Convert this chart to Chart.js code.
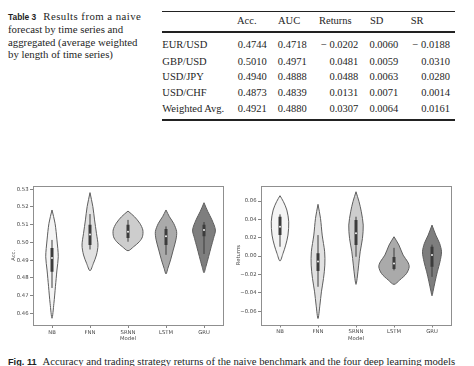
<!DOCTYPE html>
<html>
<head>
<meta charset="utf-8">
<script src="https://cdn.jsdelivr.net/npm/chart.js@4/dist/chart.umd.min.js"></script>
<style>
  body { margin: 0; background: #fff; }
  #page { position: relative; width: 474px; height: 366px; overflow: hidden; font-family: 'Liberation Serif', serif; color: #1e1e1e; }
  .abs { position: absolute; white-space: nowrap; }
  .bold { font-family: 'Liberation Sans', sans-serif; font-weight: bold; }
  .rule { position: absolute; left: 162px; width: 293px; background: #222; }
  .cell { position: absolute; font-size: 10.5px; line-height: 12px; white-space: nowrap; }
  canvas { position: absolute; }
</style>
</head>
<body>
<div id="page">
  <div class="abs" style="left:8px;top:9.8px;font-size:10.8px;line-height:12.45px;">
    <span class="bold" style="font-size:8.4px;">Table 3</span><span style="margin-left:7px;letter-spacing:0.45px;">Results from a naive</span><br>forecast by time series and<br>aggregated (average weighted<br>by length of time series)
  </div>
  <div class="rule" style="top:11.2px;height:1px;"></div>
  <div class="rule" style="top:31.4px;height:1.8px;"></div>
  <div class="rule" style="top:119.4px;height:1.3px;"></div>
  <div id="table"></div>

  <canvas id="accChart" width="235" height="170" style="left:0;top:178px;"></canvas>
  <canvas id="retChart" width="240" height="170" style="left:234px;top:178px;"></canvas>

  <div class="abs" style="left:8px;top:354.5px;font-size:10.7px;line-height:12px;">
    <span class="bold" style="font-size:9.2px;">Fig. 11</span><span style="margin-left:6px;">Accuracy and trading strategy returns of the naive benchmark and the four deep learning models</span>
  </div>
</div>
<script>
// ---- table 3 ----
const rowNames = ['EUR/USD', 'GBP/USD', 'USD/JPY', 'USD/CHF', 'Weighted Avg.'];
const colNames = ['Acc.', 'AUC', 'Returns', 'SD', 'SR'];
const tabAcc = ['0.4744', '0.5010', '0.4940', '0.4873', '0.4921'];
const tabAuc = ['0.4718', '0.4971', '0.4888', '0.4839', '0.4880'];
const tabRet = ['\u2212 0.0202', '0.0481', '0.0488', '0.0131', '0.0307'];
const tabSd = ['0.0060', '0.0059', '0.0063', '0.0071', '0.0064'];
const tabSr = ['\u2212 0.0188', '0.0310', '0.0280', '0.0014', '0.0161'];

// ---- figure 11 ----
const models = ['NB', 'FNN', 'SRNN', 'LSTM', 'GRU'];
const accTicks = [0.46, 0.47, 0.48, 0.49, 0.50, 0.51, 0.52, 0.53];
const retTicks = [-0.06, -0.04, -0.02, 0.00, 0.02, 0.04, 0.06];

// violin outlines: [value, half width in category units], top to bottom
const accNB = [[0.5183, 0], [0.5108, 0.08], [0.5014, 0.13], [0.4919, 0.165], [0.4844, 0.13], [0.4750, 0.09], [0.4656, 0.05], [0.4572, 0]];
const accFNN = [[0.5281, 0], [0.5202, 0.075], [0.5127, 0.12], [0.5051, 0.17], [0.4985, 0.21], [0.4929, 0.17], [0.4882, 0.09], [0.4840, 0]];
const accSRNN = [[0.5177, 0], [0.5145, 0.17], [0.5108, 0.31], [0.5070, 0.39], [0.5032, 0.38], [0.5004, 0.30], [0.4976, 0.15], [0.4953, 0]];
const accLSTM = [[0.5183, 0], [0.5145, 0.09], [0.5108, 0.20], [0.5061, 0.28], [0.5014, 0.26], [0.4957, 0.19], [0.4901, 0.12], [0.4854, 0.05], [0.4822, 0]];
const accGRU = [[0.5224, 0], [0.5174, 0.10], [0.5127, 0.21], [0.5070, 0.30], [0.5023, 0.25], [0.4976, 0.19], [0.4919, 0.12], [0.4863, 0.05], [0.4829, 0]];

const accWhiskHi = [0.5014, 0.5160, 0.5127, 0.5090, 0.5115];
const accQ3 = [0.4968, 0.5100, 0.5100, 0.5075, 0.5100];
const accMedian = [0.4912, 0.5045, 0.5060, 0.5035, 0.5070];
const accQ1 = [0.4835, 0.4985, 0.5025, 0.4985, 0.5035];
const accWhiskLo = [0.4743, 0.4960, 0.5004, 0.4930, 0.4935];

const retNB = [[0.0658, 0], [0.0593, 0.09], [0.0502, 0.18], [0.0374, 0.23], [0.0229, 0.21], [0.0120, 0.15], [0.0030, 0.08], [-0.0054, 0]];
const retFNN = [[0.0564, 0], [0.0411, 0.066], [0.0229, 0.11], [0.0047, 0.175], [-0.0098, 0.18], [-0.0243, 0.145], [-0.0389, 0.09], [-0.0534, 0.05], [-0.0680, 0]];
const retSRNN = [[0.0701, 0], [0.0593, 0.08], [0.0483, 0.14], [0.0338, 0.19], [0.0193, 0.17], [0.0047, 0.11], [-0.0098, 0.07], [-0.0243, 0.03], [-0.0308, 0]];
const retLSTM = [[0.0211, 0], [0.0120, 0.13], [0.0011, 0.24], [-0.0062, 0.36], [-0.0116, 0.40], [-0.0189, 0.33], [-0.0261, 0.15], [-0.0308, 0]];
const retGRU = [[0.0338, 0], [0.0229, 0.10], [0.0139, 0.20], [0.0047, 0.25], [-0.0062, 0.21], [-0.0171, 0.14], [-0.0280, 0.08], [-0.0389, 0.025], [-0.0433, 0]];

const retWhiskHi = [0.0455, 0.0229, 0.0429, 0.0090, 0.0125];
const retQ3 = [0.0429, 0.0030, 0.0393, -0.0010, 0.0102];
const retMedian = [0.0320, -0.0060, 0.0248, -0.0080, 0.0011];
const retQ1 = [0.0229, -0.0163, 0.0120, -0.0140, -0.0116];
const retWhiskLo = [0.0102, -0.0334, -0.0007, -0.0155, -0.0226];

const violinFills = ['#f4f4f4', '#e1e1e1', '#cdcdcd', '#aaaaaa', '#7e7e7e'];

// build the table
const table = document.getElementById('table');
const colLeft = [237, 278, 319, 370, 410.7];
const colRight = [266.7, 306.7, 358.3, 398.3, 450];
const rowCenter = [45, 61.7, 77.3, 93.3, 109.3];
const tabCols = [tabAcc, tabAuc, tabRet, tabSd, tabSr];

function addCell(text, top, left, right) {
  const d = document.createElement('div');
  d.className = 'cell';
  d.textContent = text;
  d.style.top = top + 'px';
  if (right != null) {
    d.style.right = (474 - right) + 'px';
  } else {
    d.style.left = left + 'px';
  }
  table.appendChild(d);
}
colNames.forEach((c, j) => addCell(c, 20.7 - 6, colLeft[j]));
rowNames.forEach((r, i) => {
  addCell(r, rowCenter[i] - 6, 162.3);
  tabCols.forEach((col, j) => addCell(col[i], rowCenter[i] - 6, null, colRight[j]));
});

// violin charts
function outline(prof, i) {
  const right = prof.map(([v, w]) => ({x: i + w, y: v}));
  const left = prof.slice(0, -1).reverse().map(([v, w]) => ({x: i - w, y: v}));
  return right.concat(left);
}

function fmt(v) {
  return v.toFixed(2).replace('-', '\u2212');
}

const framePlugin = {
  id: 'frame',
  afterDatasetsDraw(chart) {
    const {ctx, chartArea: a} = chart;
    ctx.save();
    ctx.strokeStyle = '#8f8f8f';
    ctx.lineWidth = 1;
    ctx.strokeRect(Math.round(a.left) + 0.5, Math.round(a.top) + 0.5, Math.round(a.right - a.left), Math.round(a.bottom - a.top));
    ctx.restore();
  }
};

const tickFont = {family: 'DejaVu Sans', size: 5.3};

function violinChart(id, opt) {
  const datasets = [];
  opt.profiles.forEach((prof, i) => {
    datasets.push({
      data: outline(prof, i),
      borderColor: '#5e5e5e',
      borderWidth: 1,
      backgroundColor: violinFills[i],
      fill: 'shape',
      tension: 0.3,
      pointRadius: 0,
      order: 3
    });
  });
  const whisk = [], box = [], med = [];
  models.forEach((m, i) => {
    whisk.push({x: i, y: opt.lo[i]}, {x: i, y: opt.hi[i]}, {x: i, y: null});
    box.push({x: i, y: opt.q1[i]}, {x: i, y: opt.q3[i]}, {x: i, y: null});
    med.push({x: i, y: opt.med[i]});
  });
  datasets.push({data: whisk, borderColor: '#3c3c3c', borderWidth: 1, pointRadius: 0, spanGaps: false, order: 2});
  datasets.push({data: box, borderColor: '#3c3c3c', borderWidth: 3, borderCapStyle: 'butt', pointRadius: 0, spanGaps: false, order: 1});
  datasets.push({data: med, showLine: false, pointRadius: 1, pointBorderWidth: 0, pointBackgroundColor: '#f0f0f0', order: 0});

  return new Chart(document.getElementById(id), {
    type: 'line',
    data: {datasets},
    plugins: [framePlugin],
    options: {
      responsive: false,
      animation: false,
      events: [],
      layout: {padding: opt.padding},
      plugins: {legend: {display: false}, tooltip: {enabled: false}},
      scales: {
        x: {
          type: 'linear',
          min: -0.5,
          max: 4.5,
          afterBuildTicks: s => { s.ticks = models.map((m, i) => ({value: i})); },
          afterFit: s => { s.height = opt.xHeight; },
          ticks: {font: tickFont, color: '#444', padding: 1, autoSkip: false, maxRotation: 0,
                  callback: v => models[v]},
          grid: {drawOnChartArea: false, drawTicks: true, tickLength: 3, color: '#666', lineWidth: 0.8},
          border: {display: false},
          title: {display: true, text: 'Model', font: tickFont, color: '#444', padding: {top: 0, bottom: 6.5}}
        },
        y: {
          type: 'linear',
          min: opt.min,
          max: opt.max,
          afterBuildTicks: s => { s.ticks = opt.ticks.map(v => ({value: v})); },
          afterFit: s => { s.width = opt.yWidth; },
          ticks: {font: tickFont, color: '#444', padding: 1.5, callback: v => fmt(v)},
          grid: {drawOnChartArea: false, drawTicks: true, tickLength: 3, color: '#666', lineWidth: 0.8},
          border: {display: false},
          title: {display: true, text: opt.title, font: tickFont, color: '#444', padding: {top: opt.titlePad, bottom: 0}}
        }
      }
    }
  });
}

violinChart('accChart', {
  profiles: [accNB, accFNN, accSRNN, accLSTM, accGRU],
  hi: accWhiskHi, q3: accQ3, med: accMedian, q1: accQ1, lo: accWhiskLo,
  ticks: accTicks, min: 0.4534, max: 0.5320,
  title: 'Acc.', titlePad: 10,
  padding: {left: 0, top: 7.7, right: 12, bottom: 0},
  yWidth: 33, xHeight: 23
});

violinChart('retChart', {
  profiles: [retNB, retFNN, retSRNN, retLSTM, retGRU],
  hi: retWhiskHi, q3: retQ3, med: retMedian, q1: retQ1, lo: retWhiskLo,
  ticks: retTicks, min: -0.0745, max: 0.0767,
  title: 'Returns', titlePad: 1.7,
  padding: {left: 0, top: 7.7, right: 23, bottom: 0},
  yWidth: 27, xHeight: 23.5
});
</script>
</body>
</html>
